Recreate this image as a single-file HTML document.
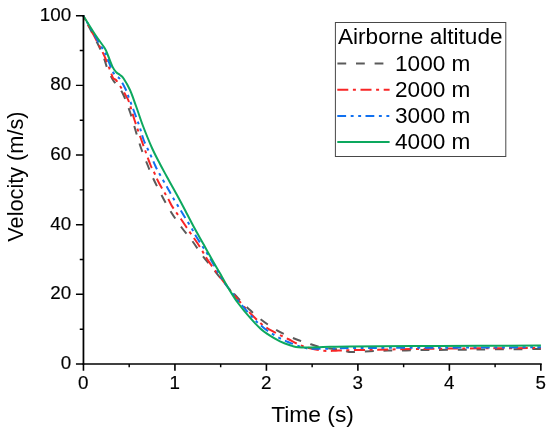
<!DOCTYPE html>
<html>
<head>
<meta charset="utf-8">
<title>Velocity vs Time</title>
<style>
html,body{margin:0;padding:0;background:#fff;}
body{width:550px;height:434px;overflow:hidden;}
svg{display:block;}
text{font-family:"Liberation Sans",sans-serif;fill:#000;}
.tick{font-size:18.8px;stroke:#000;stroke-width:0.15px;}
.lab{font-size:22.8px;}
.leg{font-size:22.6px;}
.legi{font-size:22.6px;}
.ylab{font-size:21.7px;}
</style>
</head>
<body>
<svg width="550" height="434" viewBox="0 0 550 434">
<rect x="0" y="0" width="550" height="434" fill="#fff"/>
<!-- curves -->
<g fill="none" stroke-width="2" stroke-linejoin="round">
<defs>
<path id="c1" d="M83.3 15.7 C86.2 21.5 97.0 41.9 101.0 50.5 C105.0 59.1 105.0 62.6 107.0 67.5 C109.0 72.4 111.3 77.1 113.0 80.0 C114.7 82.9 115.3 82.7 117.0 85.0 C118.7 87.3 120.8 89.5 123.0 94.0 C125.2 98.5 127.8 105.7 130.0 112.0 C132.2 118.3 134.2 126.0 136.0 132.0 C137.8 138.0 139.0 142.3 141.0 148.0 C143.0 153.7 146.0 161.0 148.0 166.0 C150.0 171.0 150.7 173.0 153.0 178.0 C155.3 183.0 159.0 190.3 162.0 196.0 C165.0 201.7 167.7 206.7 171.0 212.0 C174.3 217.3 178.3 223.0 182.0 228.0 C185.7 233.0 189.7 237.5 193.0 242.0 C196.3 246.5 198.5 250.3 202.0 255.0 C205.5 259.7 210.0 265.0 214.0 270.0 C218.0 275.0 222.2 280.5 226.0 285.0 C229.8 289.5 234.0 293.8 237.0 297.0 C240.0 300.2 241.8 302.3 244.0 304.5 C246.2 306.7 248.0 308.2 250.0 310.0 C252.0 311.8 252.7 312.8 256.0 315.5 C259.3 318.2 265.3 322.9 270.0 326.0 C274.7 329.1 279.3 331.7 284.0 334.0 C288.7 336.3 293.7 338.3 298.0 340.0 C302.3 341.7 306.3 342.8 310.0 344.0 C313.7 345.2 316.7 346.2 320.0 347.0 C323.3 347.8 326.0 348.1 330.0 348.6 C334.0 349.1 340.8 349.4 344.0 350.0 C347.2 350.6 344.7 351.8 349.0 352.0 C353.3 352.2 363.5 351.4 370.0 351.2 C376.5 351.0 382.0 350.7 388.0 350.6 C394.0 350.5 400.0 350.5 406.0 350.4 C412.0 350.3 411.7 350.1 424.0 350.0 C436.3 349.9 460.5 349.7 480.0 349.5 C499.5 349.3 530.7 349.1 540.9 349.0"/>
<clipPath id="k1"><rect x="0" y="0" width="228" height="434"/></clipPath>
<clipPath id="k2"><rect x="228" y="0" width="106" height="434"/></clipPath>
<clipPath id="k3"><rect x="334" y="0" width="216" height="434"/></clipPath>
</defs>
<g stroke="#5a5a5a" stroke-dasharray="8.8 9.8">
<use href="#c1" stroke-dashoffset="8.2" clip-path="url(#k1)"/>
<use href="#c1" stroke-dashoffset="-2.8" clip-path="url(#k2)"/>
<use href="#c1" stroke-dashoffset="15.8" clip-path="url(#k3)"/>
</g>
<path id="c2" stroke="#f82626" stroke-dasharray="11 4.6 3 4.6" stroke-dashoffset="5.3" d="M83.3 15.7 C86.4 21.6 97.5 42.0 102.0 51.0 C106.5 60.0 108.2 65.5 110.0 70.0 C111.8 74.5 112.0 76.3 113.0 78.0 C114.0 79.7 114.5 78.2 116.0 80.0 C117.5 81.8 120.3 86.3 122.0 89.0 C123.7 91.7 124.8 93.8 126.0 96.0 C127.2 98.2 127.6 98.0 129.0 102.0 C130.4 106.0 132.6 114.0 134.5 120.0 C136.4 126.0 138.8 132.7 140.7 138.0 C142.6 143.3 144.1 147.5 145.7 152.0 C147.3 156.5 149.1 161.5 150.5 165.0 C151.9 168.5 153.0 170.0 154.4 173.0 C155.8 176.0 156.7 178.7 159.0 183.0 C161.3 187.3 165.8 194.8 168.2 199.0 C170.5 203.2 170.9 204.5 173.1 207.9 C175.2 211.3 178.4 215.3 181.1 219.2 C183.8 223.1 186.6 227.5 189.2 231.3 C191.8 235.1 194.3 238.6 196.5 241.8 C198.7 245.0 200.1 247.4 202.1 250.6 C204.1 253.8 205.5 256.7 208.5 261.1 C211.5 265.5 216.4 272.2 220.0 277.0 C223.6 281.8 226.7 285.8 230.0 290.0 C233.3 294.2 236.3 297.8 240.0 302.0 C243.7 306.2 248.0 311.0 252.0 315.0 C256.0 319.0 260.0 323.0 264.0 326.0 C268.0 329.0 272.0 330.8 276.0 333.0 C280.0 335.2 284.0 337.0 288.0 339.0 C292.0 341.0 296.3 343.4 300.0 345.0 C303.7 346.6 306.0 347.3 310.0 348.3 C314.0 349.3 319.7 350.4 324.0 350.8 C328.3 351.2 331.7 350.8 336.0 350.7 C340.3 350.6 334.3 350.5 350.0 350.2 C365.7 349.9 398.2 349.2 430.0 348.8 C461.8 348.4 522.4 348.1 540.9 348.0"/>
<path id="c3" stroke="#1070f0" stroke-dasharray="8.8 4.6 2.9 4.6 2.9 4.4" stroke-dashoffset="6.3" d="M83.3 15.7 C85.2 19.1 91.6 30.1 95.0 36.0 C98.4 41.9 101.9 47.5 103.9 51.0 C105.9 54.5 105.8 54.4 107.0 57.3 C108.2 60.1 110.0 65.3 111.2 68.1 C112.4 70.9 113.4 72.9 114.3 74.3 C115.2 75.7 115.8 75.9 116.8 76.7 C117.8 77.5 118.5 76.8 120.0 79.0 C121.5 81.2 124.5 86.8 126.0 90.0 C127.5 93.2 127.5 94.0 129.0 98.0 C130.5 102.0 133.2 109.0 135.0 114.0 C136.8 119.0 138.6 123.7 140.0 128.0 C141.4 132.3 142.0 135.7 143.7 140.0 C145.4 144.3 148.1 149.7 150.1 154.0 C152.1 158.3 153.9 162.8 155.4 166.0 C156.9 169.2 157.1 169.5 159.0 173.0 C160.9 176.5 164.8 183.1 167.0 187.0 C169.2 190.9 170.0 192.6 172.3 196.6 C174.7 200.6 178.2 206.3 181.1 211.1 C184.0 215.9 187.4 221.3 190.0 225.6 C192.6 229.9 194.2 233.2 196.5 237.0 C198.8 240.8 201.5 244.8 203.7 248.2 C205.8 251.5 206.3 252.0 209.4 257.1 C212.5 262.2 218.6 273.5 222.0 279.0 C225.4 284.5 227.0 286.0 230.0 290.0 C233.0 294.0 236.7 298.9 240.0 303.0 C243.3 307.1 247.4 311.7 250.0 314.6 C252.6 317.5 254.0 319.0 255.6 320.6 C257.2 322.2 257.9 322.9 259.7 324.4 C261.4 325.9 264.1 328.3 266.1 329.8 C268.1 331.3 269.9 332.3 271.8 333.5 C273.7 334.7 275.4 335.8 277.4 336.9 C279.4 338.0 281.8 339.2 283.9 340.2 C286.0 341.2 287.6 341.8 290.3 342.9 C293.0 343.9 296.7 345.5 300.0 346.5 C303.3 347.5 305.0 348.3 310.0 348.7 C315.0 349.1 323.3 348.7 330.0 348.6 C336.7 348.5 331.7 348.1 350.0 348.0 C368.3 347.9 408.2 347.8 440.0 347.7 C471.8 347.6 524.0 347.3 540.9 347.2"/>
<path id="c4" stroke="#0ca85e" d="M83.3 15.7 C85.3 18.9 91.9 29.6 95.4 35.0 C99.0 40.4 102.5 44.7 104.6 48.0 C106.7 51.3 106.4 51.8 107.8 55.0 C109.2 58.2 111.3 64.2 112.7 67.1 C114.1 70.0 115.1 71.0 116.3 72.3 C117.5 73.6 118.8 74.0 120.0 75.0 C121.2 76.0 121.9 76.0 123.6 78.5 C125.3 81.0 127.9 85.4 130.0 90.0 C132.1 94.6 133.8 100.0 136.0 106.0 C138.2 112.0 140.3 119.0 143.0 126.0 C145.7 133.0 149.2 141.7 152.0 148.0 C154.8 154.3 157.5 159.2 160.0 164.0 C162.5 168.8 164.2 171.8 167.0 177.0 C169.8 182.2 173.9 189.3 177.0 195.0 C180.1 200.7 182.7 205.6 185.5 211.0 C188.3 216.4 191.0 221.7 194.0 227.3 C197.0 232.9 200.5 238.8 203.7 244.6 C206.9 250.4 210.6 257.0 213.4 262.0 C216.2 267.0 218.3 270.2 220.7 274.5 C223.1 278.8 225.1 282.8 228.0 287.5 C230.9 292.2 234.3 298.0 238.0 303.0 C241.7 308.0 246.3 313.5 250.0 317.7 C253.7 321.9 256.7 325.2 260.0 328.2 C263.3 331.2 266.7 333.5 270.0 335.7 C273.3 337.9 276.7 339.7 280.0 341.3 C283.3 342.9 287.3 344.3 290.0 345.2 C292.7 346.1 292.7 346.5 296.0 346.9 C299.3 347.3 304.3 347.4 310.0 347.4 C315.7 347.4 323.3 347.0 330.0 346.8 C336.7 346.6 331.7 346.5 350.0 346.4 C368.3 346.3 408.2 346.1 440.0 346.0 C471.8 345.9 524.0 345.6 540.9 345.5"/>
</g>
<!-- axes -->
<g stroke="#000" fill="none" stroke-linecap="butt">
<path stroke-width="1.75" d="M83.45 15.00 V364.80"/>
<path stroke-width="1.6" d="M82.60 364.00 H541.75"/>
<path stroke-width="1.45" d="M75.95 364.00 H83.45 M75.95 294.34 H83.45 M75.95 224.68 H83.45 M75.95 155.02 H83.45 M75.95 85.36 H83.45 M75.95 15.70 H83.45"/>
<path stroke-width="1.45" d="M79.75 329.17 H83.45 M79.75 259.51 H83.45 M79.75 189.85 H83.45 M79.75 120.19 H83.45 M79.75 50.53 H83.45"/>
<path stroke-width="1.6" d="M83.45 364.00 V370.70 M174.93 364.00 V370.70 M266.41 364.00 V370.70 M357.89 364.00 V370.70 M449.37 364.00 V370.70 M540.85 364.00 V370.70"/>
<path stroke-width="1.45" d="M129.19 364.00 V367.30 M220.67 364.00 V367.30 M312.15 364.00 V367.30 M403.63 364.00 V367.30 M495.11 364.00 V367.30"/>
</g>
<!-- tick labels -->
<g class="tick" text-anchor="end">
<text x="71.2" y="20.80" transform="rotate(0.02 71 16)">100</text>
<text x="71.2" y="90.46" transform="rotate(0.02 71 85)">80</text>
<text x="71.2" y="160.12" transform="rotate(0.02 71 155)">60</text>
<text x="71.2" y="229.78" transform="rotate(0.02 71 225)">40</text>
<text x="71.2" y="299.44" transform="rotate(0.02 71 294)">20</text>
<text x="71.2" y="369.10" transform="rotate(0.02 71 364)">0</text>
</g>
<g class="tick" text-anchor="middle">
<text x="83.25" y="389.4" transform="rotate(0.02 83 389)">0</text>
<text x="174.73" y="389.4" transform="rotate(0.02 175 389)">1</text>
<text x="266.21" y="389.4" transform="rotate(0.02 266 389)">2</text>
<text x="357.69" y="389.4" transform="rotate(0.02 358 389)">3</text>
<text x="449.17" y="389.4" transform="rotate(0.02 449 389)">4</text>
<text x="540.65" y="389.4" transform="rotate(0.02 541 389)">5</text>
</g>
<!-- axis titles -->
<text class="lab" x="312.6" y="421.5" text-anchor="middle">Time (s)</text>
<text class="ylab" transform="translate(22.5 176.6) rotate(-90)" text-anchor="middle">Velocity (m/s)</text>
<!-- legend -->
<rect x="335.4" y="22.5" width="170.4" height="134" fill="#fff" stroke="#484848" stroke-width="1"/>
<text class="leg" x="338" y="44.3">Airborne altitude</text>
<g fill="none" stroke-width="2">
<path stroke="#5a5a5a" stroke-dasharray="8.8 9.8" d="M337.4 63.5 H389.6"/>
<path stroke="#f82626" stroke-dasharray="11 4.6 3 4.6" d="M337.3 89.7 H389.6"/>
<path stroke="#1070f0" stroke-dasharray="8.8 4.6 2.9 4.6 2.9 4.4" d="M337.3 116 H389.6"/>
<path stroke="#0ca85e" d="M337.3 141.9 H389.6"/>
</g>
<g class="legi">
<text x="395" y="71.0">1000 m</text>
<text x="395" y="97.1">2000 m</text>
<text x="395" y="123.2">3000 m</text>
<text x="395" y="149.3">4000 m</text>
</g>
</svg>
</body>
</html>
